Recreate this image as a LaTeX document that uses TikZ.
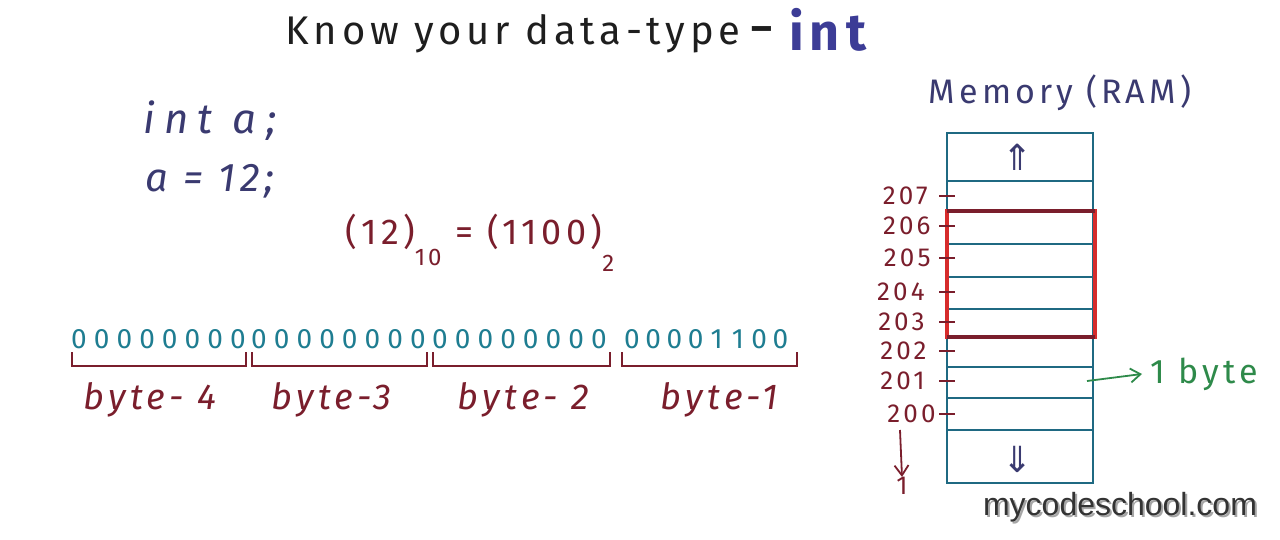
\documentclass[tikz,border=0pt]{standalone}
\usepackage{fontspec}
\setmainfont{Fira Sans}
\newfontfamily\hand[LetterSpace=12]{Fira Sans}
\newfontfamily\symb{DejaVu Sans}
\newfontfamily\wmark{Liberation Sans}
\usetikzlibrary{positioning, arrows.meta}
\definecolor{navy}{RGB}{58,58,112}
\definecolor{intblue}{RGB}{60,60,150}
\definecolor{wine}{RGB}{122,30,44}
\definecolor{bitcol}{RGB}{30,125,145}
\definecolor{boxline}{RGB}{31,105,130}
\definecolor{redbox}{RGB}{214,44,44}
\definecolor{leaf}{RGB}{46,138,74}
\definecolor{ink}{RGB}{30,30,30}
\tikzstyle{title} = [font=\hand\fontsize{20}{23}\selectfont, text=ink, inner sep=0pt]
\tikzstyle{code} = [font=\hand\itshape\fontsize{20}{23}\selectfont, text=navy, anchor=west, inner sep=0pt]
\tikzstyle{bit} = [font=\hand\fontsize{14}{16}\selectfont, text=bitcol, inner sep=0pt]
\tikzstyle{bytelabel} = [font=\hand\itshape\fontsize{18}{21}\selectfont, text=wine, inner sep=0pt]
\tikzstyle{addr} = [font=\hand\fontsize{13}{15}\selectfont, text=wine, anchor=east, inner sep=0pt]
\tikzstyle{cellline} = [draw=boxline, line width=1.1pt]
\tikzstyle{brace} = [draw=wine, line width=1.1pt]
\tikzstyle{arrow} = [line width=0.9pt, -{Straight Barb[length=5pt,width=7pt]}]

\begin{document}
\begin{tikzpicture}[x=0.5pt, y=-0.5pt]
  \useasboundingbox (0,0) rectangle (1280,540);
  %标题
  \node (title) [title, anchor=west] at (285,34) {Know your data-type};
  \node (dash) [title, font=\hand\bfseries\fontsize{20}{23}\selectfont, right=5pt of title] {–};
  \node (tint) [title, font=\hand\bfseries\fontsize{26}{30}\selectfont, text=intblue, right=8pt of dash, yshift=2pt] {int};

  %代码
  \node (decl) [code, font=\hand\itshape\fontsize{21}{24}\addfontfeature{LetterSpace=22}\selectfont] at (143,121) {int a;};
  \node (assign) [code] at (145,181) {a = 12;};
  \node (conv) [font=\hand\fontsize{18}{21}\selectfont, text=wine, inner sep=0pt] at (480,243)
    {(12)\raisebox{-1.1ex}{\fontsize{12}{14}\selectfont 10} = (1100)\raisebox{-1.4ex}{\fontsize{12}{14}\selectfont 2}};

  %二进制位
  \foreach \g/\xs/\dx/\bits in {4/79/22.7/{0,0,0,0,0,0,0,0}, 3/259/22.7/{0,0,0,0,0,0,0,0},
                                2/440/22.7/{0,0,0,0,0,0,0,0}, 1/632/21.2/{0,0,0,0,1,1,0,0}}
    \foreach \b [count=\i from 0] in \bits
      \node (b\g\i) [bit] at (\xs+\i*\dx,339) {\b};

  %字节括号
  \foreach \g/\xa/\xb in {4/72/246, 3/252/427, 2/433/610, 1/622/797}{
    \draw[brace] (\xa,352) -- (\xa,366) -- (\xb,366) -- (\xb,352);
    \coordinate (br\g) at ({(\xa+\xb)/2},366);
  }
  \node (lab4) [bytelabel, below=8pt of br4, xshift=-4.5pt] {byte- 4};
  \node (lab3) [bytelabel, below=8pt of br3, xshift=-4pt] {byte-3};
  \node (lab2) [bytelabel, below=8pt of br2, xshift=1pt] {byte- 2};
  \node (lab1) [bytelabel, below=8pt of br1, xshift=5pt] {byte-1};

  %内存
  \node (memlab) [font=\hand\fontsize{17}{20}\selectfont, text=navy, inner sep=0pt] at (1060,93) {Memory (RAM)};
  \draw[cellline] (947,133) rectangle (1093,483);
  \foreach \y in {181,211,244,277,309,337,367,398,430}
    \draw[cellline] (947,\y) -- (1093,\y);
  \draw[redbox, line width=1.6pt] (947,211) rectangle (1095,337);
  \draw[wine, line width=1.6pt] (947,211) -- (1095,211);
  \draw[wine, line width=1.6pt] (947,337) -- (1095,337);
  \node (up) [font=\symb\fontsize{18}{20}\selectfont, text=navy] at (1018,157) {⇑};
  \node (down) [font=\symb\fontsize{18}{20}\selectfont, text=navy] at (1018,459) {⇓};

  %地址
  \foreach \a/\y/\xr in {207/196/928, 206/226/931, 205/258/931, 204/292/925,
                         203/322/925, 202/351/927, 201/381/925, 200/414/936}{
    \draw[wine, line width=1pt] (939,\y) -- (955,\y);
    \node (m\a) [addr] at (\xr,\y) {\a};
  }
  \coordinate (lowtop) at (900,430);
  \node (low) [addr, anchor=center] at (902,486) {1};
  \draw[arrow, wine] (lowtop) -- (low.north);

  %一个字节
  \node (onebyte) [font=\hand\fontsize{17}{20}\selectfont, text=leaf, inner sep=0pt, anchor=west] at (1150,374) {1 byte};
  \coordinate (cellpt) at (1087,381);
  \draw[arrow, leaf] (cellpt) -- ([xshift=-4pt]onebyte.west);

  %水印
  \node (shadow) [font=\wmark\fontsize{16}{18}\selectfont, text=black!35, inner sep=0pt] at (1122,509) {mycodeschool.com};
  \node (wm) [font=\wmark\fontsize{16}{18}\selectfont, text=black!80, inner sep=0pt] at (1120,507) {mycodeschool.com};
\end{tikzpicture}
\end{document}
